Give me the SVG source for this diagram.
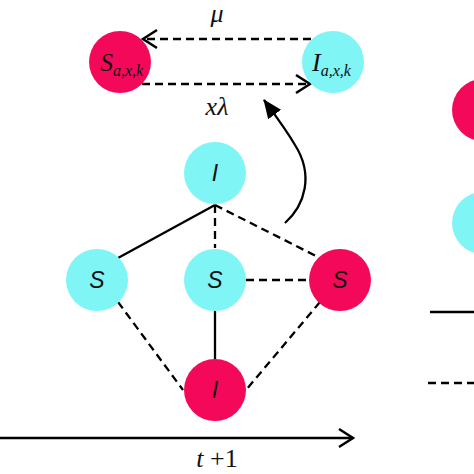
<svg xmlns="http://www.w3.org/2000/svg" width="474" height="474" viewBox="0 0 474 474">
<style>
.red{fill:#F4095A}
.cyan{fill:#80F5F5}
.ln{stroke:#000;stroke-width:2.3;fill:none}
.dash{stroke-dasharray:8,5}
.lab{font-family:"Liberation Sans",Arial,sans-serif;font-style:italic;font-size:23px;fill:#111;text-anchor:middle}
.math{font-family:"Liberation Serif","Times New Roman",serif;font-style:italic;fill:#111}
</style>
<defs>
<marker id="open" markerWidth="20" markerHeight="22" refX="16" refY="11" orient="auto" markerUnits="userSpaceOnUse">
<path d="M2,2 L16,11 L2,20" fill="none" stroke="#000" stroke-width="2.5"/>
</marker>
<marker id="solid" markerWidth="20" markerHeight="20" refX="18" refY="10" orient="auto" markerUnits="userSpaceOnUse">
<path d="M0,2 L19,10 L0,18 Z" fill="#000"/>
</marker>
</defs>
<g id="connectors">
<line class="ln dash" x1="311" y1="39" x2="143" y2="39" marker-end="url(#open)"/>
<line class="ln dash" x1="142" y1="84" x2="310" y2="84" marker-end="url(#open)"/>
<path class="ln" d="M285,223 C305,205 314,175 295,145 C285,128 275,115 264,100" marker-end="url(#solid)"/>
<line class="ln" x1="215" y1="205" x2="118" y2="258"/>
<line class="ln dash" x1="215" y1="205" x2="215" y2="248"/>
<line class="ln dash" x1="215" y1="205" x2="320" y2="258"/>
<line class="ln dash" x1="246" y1="280" x2="309" y2="280"/>
<line class="ln" x1="215" y1="311" x2="215" y2="359"/>
<line class="ln dash" x1="118" y1="302" x2="183" y2="390"/>
<line class="ln dash" x1="320" y1="302" x2="246" y2="390"/>
<line class="ln" x1="0" y1="438" x2="353" y2="438" marker-end="url(#open)"/>
<line class="ln" x1="430" y1="312" x2="474" y2="312"/>
<line class="ln dash" x1="428" y1="383" x2="474" y2="383"/>
</g>
<text class="math" x="217" y="22" font-size="26" text-anchor="middle">μ</text>
<text class="math" x="217" y="115" font-size="26" text-anchor="middle">xλ</text>
<text x="217" y="467" font-size="26" text-anchor="middle" font-family="Liberation Serif,'Times New Roman',serif" fill="#111"><tspan font-style="italic">t</tspan> +1</text>
<g id="S_axk">
<circle class="red" cx="120" cy="62" r="31"/>
<text class="math" x="100" y="71" font-size="26">S<tspan font-size="16" dy="5">a,x,k</tspan></text>
</g>
<g id="I_axk">
<circle class="cyan" cx="333" cy="62" r="31"/>
<text class="math" x="312" y="71" font-size="26">I<tspan font-size="16" dy="5">a,x,k</tspan></text>
</g>
<g id="I_top">
<circle class="cyan" cx="215" cy="173" r="31"/>
<text class="lab" x="215" y="181">I</text>
</g>
<g id="S_left">
<circle class="cyan" cx="97" cy="280" r="31"/>
<text class="lab" x="97" y="288">S</text>
</g>
<g id="S_mid">
<circle class="cyan" cx="215" cy="280" r="31"/>
<text class="lab" x="215" y="288">S</text>
</g>
<g id="S_right">
<circle class="red" cx="340" cy="280" r="31"/>
<text class="lab" x="340" y="288">S</text>
</g>
<g id="I_bottom">
<circle class="red" cx="215" cy="390" r="31"/>
<text class="lab" x="215" y="398">I</text>
</g>
<g id="legend_red">
<circle class="red" cx="483" cy="110" r="31"/>
</g>
<g id="legend_cyan">
<circle class="cyan" cx="483" cy="223" r="31"/>
</g>
</svg>
